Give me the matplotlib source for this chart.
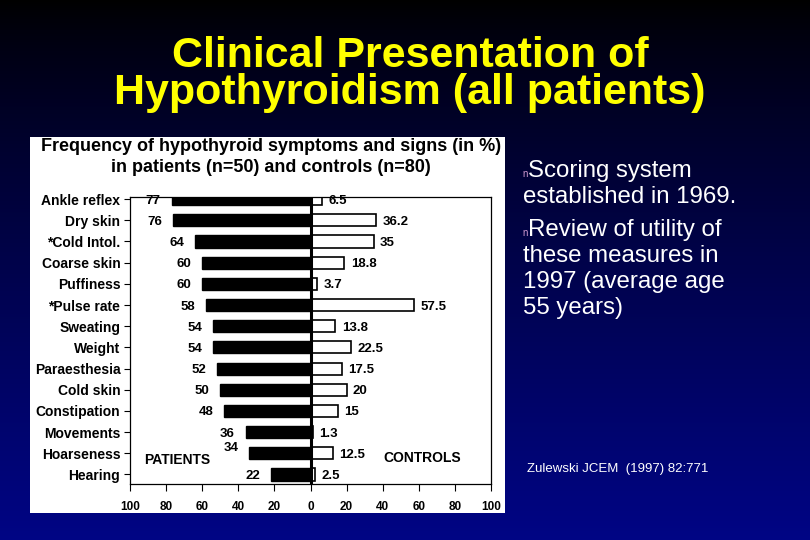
import numpy as np
import matplotlib.pyplot as plt
from matplotlib.patches import Rectangle

plt.rcParams['font.family'] = ['Liberation Sans', 'DejaVu Sans']

categories = ['Ankle reflex', 'Dry skin', '*Cold Intol.', 'Coarse skin', 'Puffiness',
              '*Pulse rate', 'Sweating', 'Weight', 'Paraesthesia', 'Cold skin',
              'Constipation', 'Movements', 'Hoarseness', 'Hearing']
patients = [77, 76, 64, 60, 60, 58, 54, 54, 52, 50, 48, 36, 34, 22]
controls = [6.5, 36.2, 35, 18.8, 3.7, 57.5, 13.8, 22.5, 17.5, 20, 15, 1.3, 12.5, 2.5]
control_labels = ['6.5', '36.2', '35', '18.8', '3.7', '57.5', '13.8', '22.5', '17.5',
                  '20', '15', '1.3', '12.5', '2.5']
xticks = [-100, -80, -60, -40, -20, 0, 20, 40, 60, 80, 100]
xticklabels = ['100', '80', '60', '40', '20', '0', '20', '40', '60', '80', '100']

W, H = 810, 540
fig = plt.figure(figsize=(W / 100, H / 100), dpi=100)

# slide background: black at top to navy at bottom
bg = fig.add_axes([0, 0, 1, 1])
t = np.linspace(0, 1, 256).reshape(-1, 1)
grad = np.zeros((256, 1, 3))
grad[..., 1] = 0.02 * t
grad[..., 2] = 0.52 * t ** 0.8
bg.imshow(grad, aspect='auto', extent=[0, 1, 0, 1], origin='upper')
bg.set_xlim(0, 1)
bg.set_ylim(0, 1)
bg.axis('off')

# title (one text, two lines, tight spacing as on the slide)
fig.text(410 / W, 1 - 104 / H, 'Clinical Presentation of\nHypothyroidism (all patients)',
         color='#ffff00', fontsize=31, fontweight='bold', ha='center', va='baseline',
         multialignment='center', linespacing=0.9)

# white inset
fig.patches.append(Rectangle((30 / W, 1 - 513 / H), 475 / W, 376 / H,
                             transform=fig.transFigure, facecolor='white',
                             edgecolor='none', zorder=1))
fig.text(271 / W, 1 - 147 / H, 'Frequency of hypothyroid symptoms and signs (in %)',
         fontsize=13, fontweight='bold', ha='center', va='center', zorder=3)
fig.text(271 / W, 1 - 168 / H, 'in patients (n=50) and controls (n=80)',
         fontsize=13, fontweight='bold', ha='center', va='center', zorder=3)

ax = fig.add_axes([130 / W, 1 - 484 / H, 361 / W, 287 / H], zorder=2)
ax.set_facecolor('white')
y = np.arange(len(categories))
ax.barh(y, [-p for p in patients], height=0.57, color='black', edgecolor='black')
ax.barh(y, controls, height=0.57, color='white', edgecolor='black', linewidth=1.2)
ax.axvline(0, color='black', linewidth=2.2)
for i in range(len(categories)):
    dy = -0.3 if categories[i] == 'Hoarseness' else 0
    ax.text(-patients[i] - 6, y[i] + dy, str(patients[i]), ha='right',
            va='center_baseline', fontsize=9.5, fontweight='bold')
    ax.text(controls[i] + 3.5, y[i], control_labels[i], ha='left',
            va='center_baseline', fontsize=9.5, fontweight='bold')
ax.text(-74, 12.3, 'PATIENTS', ha='center', va='center', fontsize=10, fontweight='bold')
ax.text(62, 12.2, 'CONTROLS', ha='center', va='center', fontsize=10, fontweight='bold')

ax.set_xlim(-100, 100)
ax.set_ylim(13.45, -0.1)
ax.set_yticks(y)
ax.set_yticklabels(categories, fontsize=10, fontweight='bold')
ax.set_xticks(xticks)
ax.set_xticklabels(xticklabels, fontsize=8.5, fontweight='bold')
ax.tick_params(axis='y', length=4, width=0.8, pad=3)
ax.tick_params(axis='x', length=5, width=0.8, pad=7)
for s in ax.spines.values():
    s.set_linewidth(0.9)

# right-hand notes
lines = [(177, 'Scoring system', True), (203, 'established in 1969.', False),
         (236, 'Review of utility of', True), (262, 'these measures in', False),
         (288, '1997 (average age', False), (314, '55 years)', False)]
for yy, txt, bullet in lines:
    x0 = 528 if bullet else 523
    fig.text(x0 / W, 1 - yy / H, txt, color='white', fontsize=17.3,
             ha='left', va='baseline')
    if bullet:
        fig.text(522 / W, 1 - yy / H, 'n', color='#d09ad0', fontsize=7,
                 ha='left', va='baseline')
fig.text(527 / W, 1 - 469 / H, 'Zulewski JCEM  (1997) 82:771', color='white',
         fontsize=9.5, ha='left', va='center')

plt.savefig('out.png', dpi=100)
